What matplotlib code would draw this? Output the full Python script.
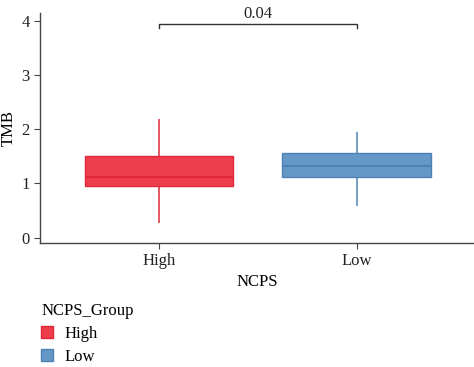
import matplotlib.pyplot as plt
from matplotlib.patches import Patch

# data
groups = ["High", "Low"]
whisker_low = [0.27, 0.59]
q1 = [0.96, 1.12]
median = [1.125, 1.32]
q3 = [1.505, 1.555]
whisker_high = [2.18, 1.95]
p_label = "0.04"

face = ["#EE3E4C", "#6498C6"]
edge = ["#E0283A", "#4F82B4"]

plt.rcParams['font.family'] = ['Liberation Serif', 'DejaVu Serif']
plt.rcParams['font.size'] = 12

fig = plt.figure(figsize=(4.74, 3.67), dpi=100)
ax = fig.add_axes([0.0844, 0.338, 0.9156, 0.626])

stats = []
for i, g in enumerate(groups):
    stats.append(dict(label=g, whislo=whisker_low[i], q1=q1[i], med=median[i],
                      q3=q3[i], whishi=whisker_high[i], fliers=[]))

for i in range(len(groups)):
    ax.vlines(i, whisker_low[i], whisker_high[i], color=edge[i], lw=1.1, zorder=1)

bp = ax.bxp(stats, positions=range(len(groups)), widths=0.75, patch_artist=True,
            showcaps=False, manage_ticks=False)
for i, box in enumerate(bp['boxes']):
    box.set_facecolor(face[i])
    box.set_edgecolor(edge[i])
    box.set_linewidth(1.0)
    box.set_zorder(2)
for i, m in enumerate(bp['medians']):
    m.set_color(edge[i])
    m.set_linewidth(1.5)
    m.set_zorder(3)
for w in bp['whiskers']:
    w.set_visible(False)

# significance bracket
ax.plot([0, 0, 1, 1], [3.87, 3.94, 3.94, 3.87], color="#333333", lw=1.0, clip_on=False)
ax.text(0.5, 4.12, p_label, ha="center", va="center", color="#222222")

ax.set_xlim(-0.6, 1.594)
ax.set_ylim(-0.1, 4.14)
ax.set_yticks([0, 1, 2, 3, 4])
ax.set_xticks(range(len(groups)))
ax.set_xticklabels(groups)
ax.set_xlabel("NCPS", labelpad=3)
ax.set_ylabel("TMB", labelpad=3)

for s in ["top", "right"]:
    ax.spines[s].set_visible(False)
for s in ["left", "bottom"]:
    ax.spines[s].set_color("#444444")
    ax.spines[s].set_linewidth(1.0)
ax.tick_params(colors="#444444", labelcolor="#222222", length=4)

handles = [Patch(facecolor=face[i], edgecolor=edge[i], label=g) for i, g in enumerate(groups)]
fig.legend(handles=handles, title="NCPS_Group", loc="upper left",
           bbox_to_anchor=(0.062, 0.205), frameon=False, alignment="left",
           handlelength=0.7, handleheight=0.7, handletextpad=0.7, labelspacing=0.4,
           borderpad=0.2)

fig.savefig("out.png", dpi=100)
